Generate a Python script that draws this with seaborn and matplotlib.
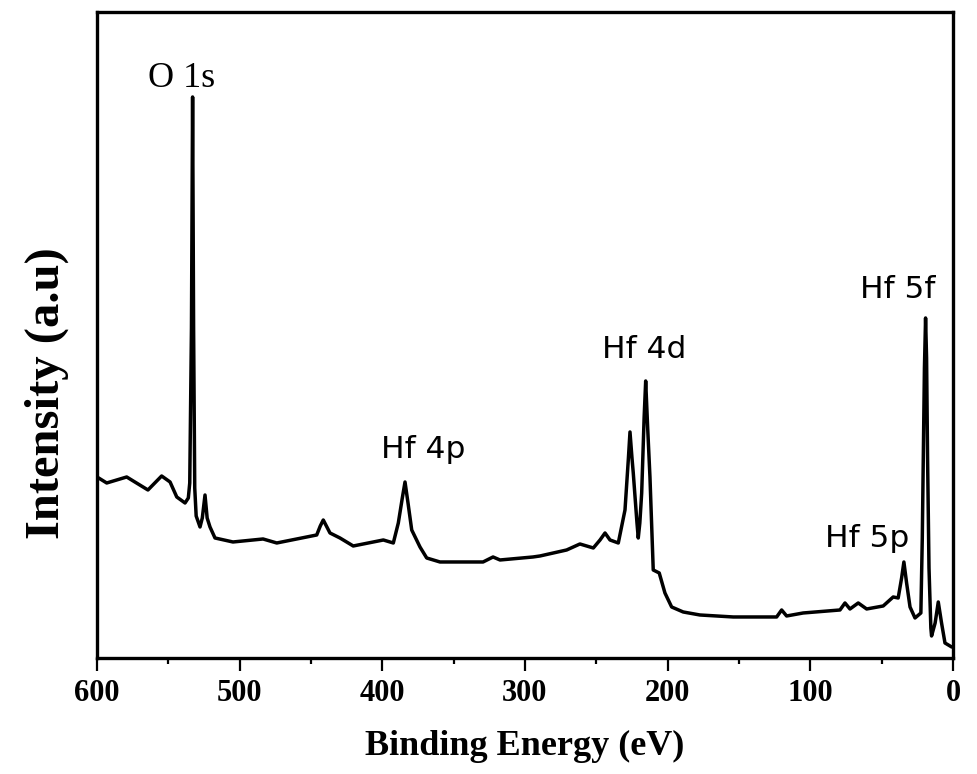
import numpy as np
import pandas as pd
import seaborn as sns
import matplotlib
matplotlib.use("Agg")
import matplotlib.pyplot as plt
from matplotlib.ticker import MultipleLocator

# XPS survey spectrum (intensity in arbitrary units)
energy = [600, 593.2, 579.2, 564.3, 554.7, 548.8, 544.1, 538.3, 536.0, 535.0,
          533.8, 533.0, 532.3, 531.5, 530.5, 527.8, 526.2, 524.3, 522.8, 520.8,
          517.3, 504.7, 483.6, 474.0, 453.0, 446.0, 443.5, 441.4, 438.5, 436.7,
          429.7, 420.4, 399.3, 392.3, 388.8, 386.0, 384.1, 382.0, 379.4, 373.6,
          368.9, 359.6, 329.4, 322.4, 317.5, 294.4, 289.5, 270.8, 261.5, 252.1,
          247.4, 243.9, 240.4, 234.6, 229.9, 227.5, 226.4, 225.0, 224.1, 221.5,
          220.6, 219.5, 218.2, 216.5, 215.4, 214.0, 212.4, 210.1, 205.9, 201.9,
          197.2, 189.1, 177.4, 154.0, 123.6, 120.1, 116.6, 105.0, 79.2, 75.7,
          72.2, 66.4, 60.5, 48.9, 41.9, 38.4, 36.0, 34.4, 32.5, 30.1,
          26.6, 22.5, 21.5, 20.8, 20.0, 19.2, 18.5, 17.8, 16.8, 15.5,
          15.0, 12.5, 10.3, 8.0, 5.6, 0.9, 0.0]
intensity = [181, 175, 181, 168, 182, 176, 161, 155, 160, 175,
             330, 561, 330, 170, 142, 131, 140, 163, 140, 131,
             120, 116, 119, 115, 121, 123, 132, 138, 130, 125,
             120, 112, 118, 115, 135, 160, 176, 155, 128, 111,
             100, 96, 96, 101, 98, 101, 102, 108, 114, 110,
             118, 125, 118, 115, 148, 200, 226, 200, 185, 135,
             120, 135, 165, 240, 277, 230, 181, 88, 85, 65,
             51, 46, 43, 41, 41, 48, 42, 45, 48, 55,
             49, 55, 49, 52, 61, 60, 80, 96, 75, 51,
             40, 45, 120, 200, 290, 340, 300, 200, 90, 30,
             22, 35, 56, 35, 15, 11, 11]

peak_labels = ["O 1s", "Hf 4p", "Hf 4d", "Hf 5p", "Hf 5f"]
label_x = [564.3, 400.9, 246.3, 89.7, 65.2]
label_y = [571, 200, 300, 111, 360]

df = pd.DataFrame({"Binding Energy": energy, "Intensity": intensity})

sns.set_theme(style="ticks")
plt.rcParams["font.family"] = ["Liberation Serif", "DejaVu Serif"]
plt.rcParams["text.color"] = "black"
plt.rcParams["axes.labelcolor"] = "black"

fig = plt.figure(figsize=(9.78, 7.74), dpi=100)
ax = fig.add_axes([0.0992, 0.1499, 0.8752, 0.8346])

sns.lineplot(data=df, x="Binding Energy", y="Intensity", ax=ax,
             color="black", linewidth=2.5, estimator=None)

ax.set_xlim(600, 0)
ax.set_ylim(0, 646)
ax.set_yticks([])
ax.xaxis.set_major_locator(MultipleLocator(100))
ax.xaxis.set_minor_locator(MultipleLocator(50))
ax.tick_params(axis="x", which="major", length=9, width=1.6, direction="out",
               labelsize=22, pad=6, colors="black")
ax.tick_params(axis="x", which="minor", length=4.5, width=1.6, direction="out",
               colors="black")
for lbl in ax.get_xticklabels():
    lbl.set_fontweight("bold")

for side in ["left", "right", "top", "bottom"]:
    ax.spines[side].set_visible(True)
    ax.spines[side].set_linewidth(2.4)
    ax.spines[side].set_color("black")

ax.set_xlabel("Binding Energy (eV)", fontsize=26, fontweight="bold",
              labelpad=16, color="black")
ax.set_ylabel("Intensity (a.u)", fontsize=35, fontweight="bold",
              labelpad=20, color="black")
ax.yaxis.label.set_y(0.41)

for name, lx, ly in zip(peak_labels, label_x, label_y):
    if name == "O 1s":
        ax.text(lx, ly, name, fontsize=26, family=["Liberation Serif"],
                ha="left", va="baseline", color="black")
    else:
        ax.text(lx, ly, name, fontsize=22.5, family=["DejaVu Sans"],
                ha="left", va="baseline", color="black")

plt.savefig("out.png", dpi=100)
